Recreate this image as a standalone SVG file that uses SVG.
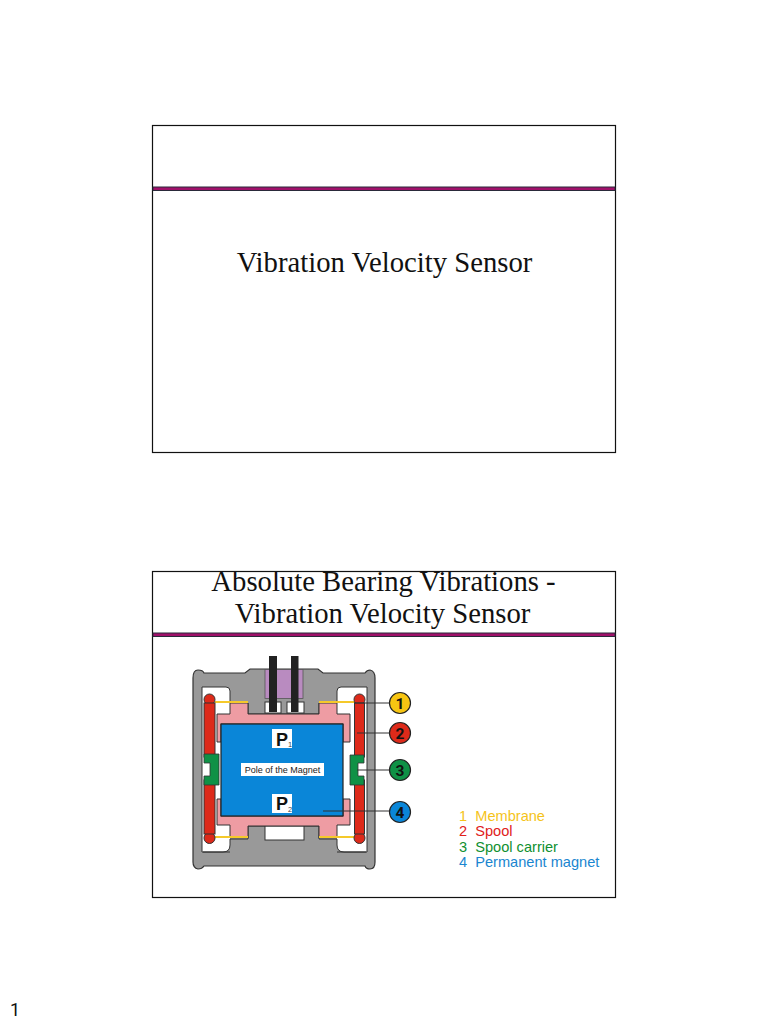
<svg xmlns="http://www.w3.org/2000/svg" width="768" height="1024" viewBox="0 0 768 1024">
<style>
.frame{fill:#fff;stroke:#111;stroke-width:1.2}
.rule{fill:#a0106a;stroke:#2a2a3a;stroke-width:1}
.title{font-family:"Liberation Serif",serif;font-size:28.7px;fill:#111;text-anchor:middle}
.legend{font-family:"Liberation Sans",sans-serif;font-size:14.6px}
.num{font-family:Roboto,sans-serif;font-size:15.5px;font-weight:bold;fill:#111;text-anchor:middle}
.gray{fill:#999;stroke:#333;stroke-width:1.2}
.pink{fill:#ee9ca3;stroke:#333;stroke-width:1}
.red{fill:#dd2a1a;stroke:#333;stroke-width:1}
.green{fill:#0f9146;stroke:#333;stroke-width:.8}
.wbox{fill:#fff;stroke:#333;stroke-width:1}
.mem{stroke:#f5c92a;stroke-width:2;fill:none}
.lead{stroke:#333;stroke-width:1;fill:none}
.bub{stroke:#222;stroke-width:1.2}
.bigp{font-family:"Liberation Sans",sans-serif;font-size:18px;font-weight:bold;fill:#111}
.sub{font-family:"Liberation Sans",sans-serif;font-size:7.500px;fill:#444}
</style>
<rect width="768" height="1024" fill="#fff"/>
<g id="slide1">
<rect class="frame" x="152.500" y="125.500" width="463" height="327"/>
<rect class="rule" x="153" y="187" width="462" height="3.500"/>
<text class="title" x="384.500" y="272">Vibration Velocity Sensor</text>
</g>
<g id="slide2">
<rect class="frame" x="152.500" y="571.500" width="463" height="326"/>
<rect class="rule" x="153" y="633" width="462" height="3.500"/>
<text class="title" x="383.500" y="591">Absolute Bearing Vibrations -</text>
<text class="title" x="382.500" y="623">Vibration Velocity Sensor</text>
</g>
<g id="sensor">
<path class="gray" d="M193 678Q193 670 198 670Q203 670 204 673H245L250 669H318L323 673H365Q367 670 370 670Q375 671 375 678V862Q375 869 370 869Q366 869 365 866H204Q202 869 198 869Q193 868 193 862Z"/>
<path d="M202 687H226Q230 687 230 691V703H248V714H319V703H337V691Q337 687 341 687H367V852H344Q337 852 337 845V839H319V826H248V839H230V845Q230 852 223 852H202Z" fill="#fff" stroke="#333" stroke-width="1"/>
<rect class="wbox" x="265" y="826" width="39" height="14"/>
<path d="M203 852H230M337 852H366" stroke="#333" stroke-width="1" fill="none"/>
<rect x="265" y="669.500" width="38" height="29" fill="#b98bc0" stroke="#555" stroke-width=".8"/>
<rect class="wbox" x="265" y="702" width="16" height="11"/>
<rect class="wbox" x="287" y="702" width="17" height="11"/>
<rect x="269" y="656" width="8" height="56" fill="#222"/>
<rect x="291" y="656" width="7.500" height="56" fill="#222"/>
<path class="pink" d="M217 742V714H230V703H248V714H319V703H337V714H350V742H343V724H221V742Z"/>
<path class="pink" d="M217 799V825H230V838H248V826H319V838H337V825H350V799H343V816H221V799Z"/>
<rect x="221" y="724" width="122" height="92" fill="#0a86d8" stroke="#222" stroke-width="1.200"/>
<path class="mem" d="M215 702H248M319 702H355M215 837H248M319 837H355"/>
<circle class="red" cx="209.500" cy="699.500" r="5.500"/>
<rect class="red" x="204" y="703" width="11" height="54"/>
<circle class="red" cx="209.500" cy="838" r="5.500"/>
<rect class="red" x="204" y="780" width="11" height="54"/>
<circle class="red" cx="359.500" cy="699.500" r="5.500"/>
<rect class="red" x="354.500" y="703" width="10" height="54"/>
<circle class="red" cx="359.500" cy="838" r="5.500"/>
<rect class="red" x="354.500" y="780" width="10" height="54"/>
<path class="green" d="M204 754H219V785H204V776H210V763H204Z"/>
<path class="green" d="M350 755H364V763H358V776H364V785H350Z"/>
<rect x="272" y="729" width="20" height="19" fill="#fff"/>
<text class="bigp" x="276" y="746">P</text>
<text class="sub" x="288" y="747">1</text>
<rect x="272" y="794" width="20" height="19" fill="#fff"/>
<text class="bigp" x="276" y="810">P</text>
<text class="sub" x="288" y="812">2</text>
<rect x="241" y="763" width="83" height="13" fill="#fff"/>
<text x="282.500" y="773" font-family="Liberation Sans,sans-serif" font-size="9" fill="#222" text-anchor="middle">Pole of the Magnet</text>
</g>
<g id="connectors">
<path class="lead" d="M354 703H390M357 733H390M357 770H390M323 811H390"/>
</g>
<g id="node1"><circle class="bub" cx="400" cy="703" r="10.500" fill="#f7c512"/><text class="num" x="400" y="708.500">1</text></g>
<g id="node2"><circle class="bub" cx="400" cy="733" r="10.500" fill="#dd2a1a"/><text class="num" x="400" y="738.500">2</text></g>
<g id="node3"><circle class="bub" cx="400" cy="770" r="10.500" fill="#0f9146"/><text class="num" x="400" y="775.500">3</text></g>
<g id="node4"><circle class="bub" cx="400" cy="812" r="10.500" fill="#0a86d8"/><text class="num" x="400" y="817.500">4</text></g>
<g id="legend">
<text class="legend" x="459" y="820.500" fill="#f5c31a" xml:space="preserve">1  Membrane</text>
<text class="legend" x="459" y="835.500" fill="#e0201a" xml:space="preserve">2  Spool</text>
<text class="legend" x="459" y="851.500" fill="#109030" xml:space="preserve">3  Spool carrier</text>
<text class="legend" x="459" y="866.500" fill="#1a86d0" xml:space="preserve">4  Permanent magnet</text>
</g>
<text id="pagenum" x="10" y="1016" font-family="Roboto,sans-serif" font-size="18" fill="#111">1</text>
</svg>
